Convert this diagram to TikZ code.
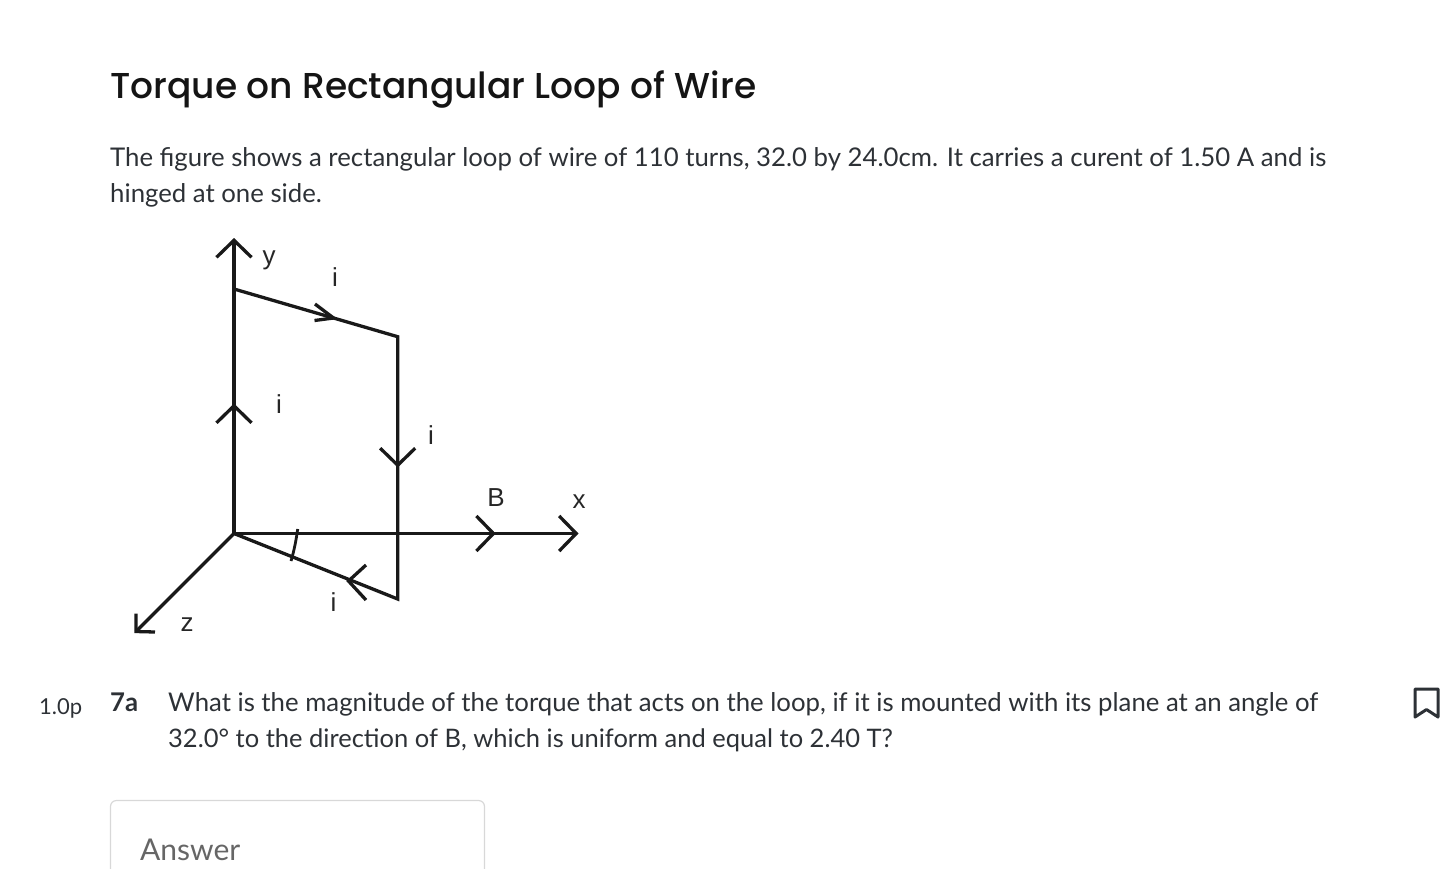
\documentclass[tikz,border=0pt]{standalone}
\usepackage{fontspec}
\usetikzlibrary{arrows.meta}
\setmainfont{Lato}
\newfontfamily\titlefont{Poppins Medium}
\newfontfamily\labelfont{Liberation Sans}
\definecolor{inktext}{HTML}{2D3136}
\definecolor{boxline}{HTML}{D8D8D8}
\definecolor{hintgray}{HTML}{666666}

\tikzset{
	wire/.style={line width=3.3pt, black!90},
	barb/.style={wire, -{Straight Barb[length=17pt, width=35pt, line width=3.3pt]}},
	label/.style={anchor=base, inner sep=0pt, text=black!85, font=\labelfont\fontsize{26}{30}\selectfont},
	body/.style={anchor=base west, inner sep=0pt, text=inktext, font=\fontsize{25.75}{30}\selectfont}
}

\begin{document}
\begin{tikzpicture}[x=1pt, y=-1pt]
	\useasboundingbox (0, 0) rectangle (1446, 868);

	\node (title)[body, text=black!92, font=\titlefont\fontsize{36}{40}\selectfont] at (110, 98) {Torque on Rectangular Loop of Wire};
	\node (intro1)[body] at (110, 166) {The figure shows a rectangular loop of wire of 110 turns, 32.0 by 24.0cm. It carries a curent of 1.50 A and is};
	\node (intro2)[body] at (110, 202) {hinged at one side.};

	\coordinate (O) at (234, 533.5);
	\coordinate (ytip) at (234, 238);
	\coordinate (xtip) at (578.5, 533.5);
	\coordinate (ztip) at (136, 631.5);
	\coordinate (tl) at (234, 289);
	\coordinate (tr) at (397.7, 336.7);
	\coordinate (br) at (397.7, 599);
	\coordinate (leftmid) at (234, 403.5);
	\coordinate (topmid) at (333.5, 318);
	\coordinate (topA) at (315, 304);
	\coordinate (topB) at (314.5, 320.5);
	\coordinate (rightmid) at (397.7, 467.5);
	\coordinate (botmid) at (348.5, 581);
	\coordinate (botA) at (366, 565);
	\coordinate (botB) at (366, 600);
	\coordinate (zA) at (136, 613.5);
	\coordinate (zB) at (155, 632);
	\coordinate (bmid) at (495.7, 533.5);
	\coordinate (arcA) at (297.7, 529);
	\coordinate (arcB) at (291, 561);

	\draw[barb] (O) -- (ytip);
	\draw[barb] (O) -- (xtip);
	\draw[wire] (O) -- (ztip);
	\draw[wire] (zA) -- (ztip) -- (zB);
	\draw[barb] (O) -- (leftmid);
	\draw[barb] (O) -- (bmid);
	\draw[wire, line join=miter] (tl) -- (tr) -- (br) -- (O);
	\draw[wire] (topA) -- (topmid) -- (topB);
	\draw[barb] (tr) -- (rightmid);
	\draw[wire] (botA) -- (botmid) -- (botB);
	\draw[wire, line width=2.8pt] (arcA) .. controls (296, 541) and (294, 551) .. (arcB);

	\node (ylabel)[label] at (269, 264.5) {y};
	\node (itop)[label] at (335, 286.5) {i};
	\node (ileft)[label] at (279, 413) {i};
	\node (iright)[label] at (431, 444) {i};
	\node (Blabel)[label] at (496, 506) {B};
	\node (xlabel)[label] at (579, 508.5) {x};
	\node (ibot)[label] at (333.5, 611) {i};
	\node (zlabel)[label] at (187, 631.5) {z};

	\node (points)[body, font=\fontsize{22}{26}\selectfont] at (39, 714) {1.0p};
	\node (qnum)[body, font=\bfseries\fontsize{25.75}{30}\selectfont] at (110, 711) {7a};
	\node (q1)[body] at (168, 711) {What is the magnitude of the torque that acts on the loop, if it is mounted with its plane at an angle of};
	\node (q2)[body, font=\fontsize{25.5}{30}\selectfont] at (168, 747) {32.0° to the direction of B, which is uniform and equal to 2.40 T?};

	\draw[inktext, line width=3pt, line join=round] (1415, 689) -- (1438, 689) -- (1438, 717) -- (1426.5, 709.5) -- (1415, 717) -- cycle;

	\draw[boxline, line width=1.2pt, rounded corners=6pt] (110.5, 880) -- (110.5, 800.5) -- (484.5, 800.5) -- (484.5, 880);
	\node (answer)[body, text=hintgray, font=\fontsize{30}{34}\selectfont] at (140, 860) {Answer};
\end{tikzpicture}
\end{document}
